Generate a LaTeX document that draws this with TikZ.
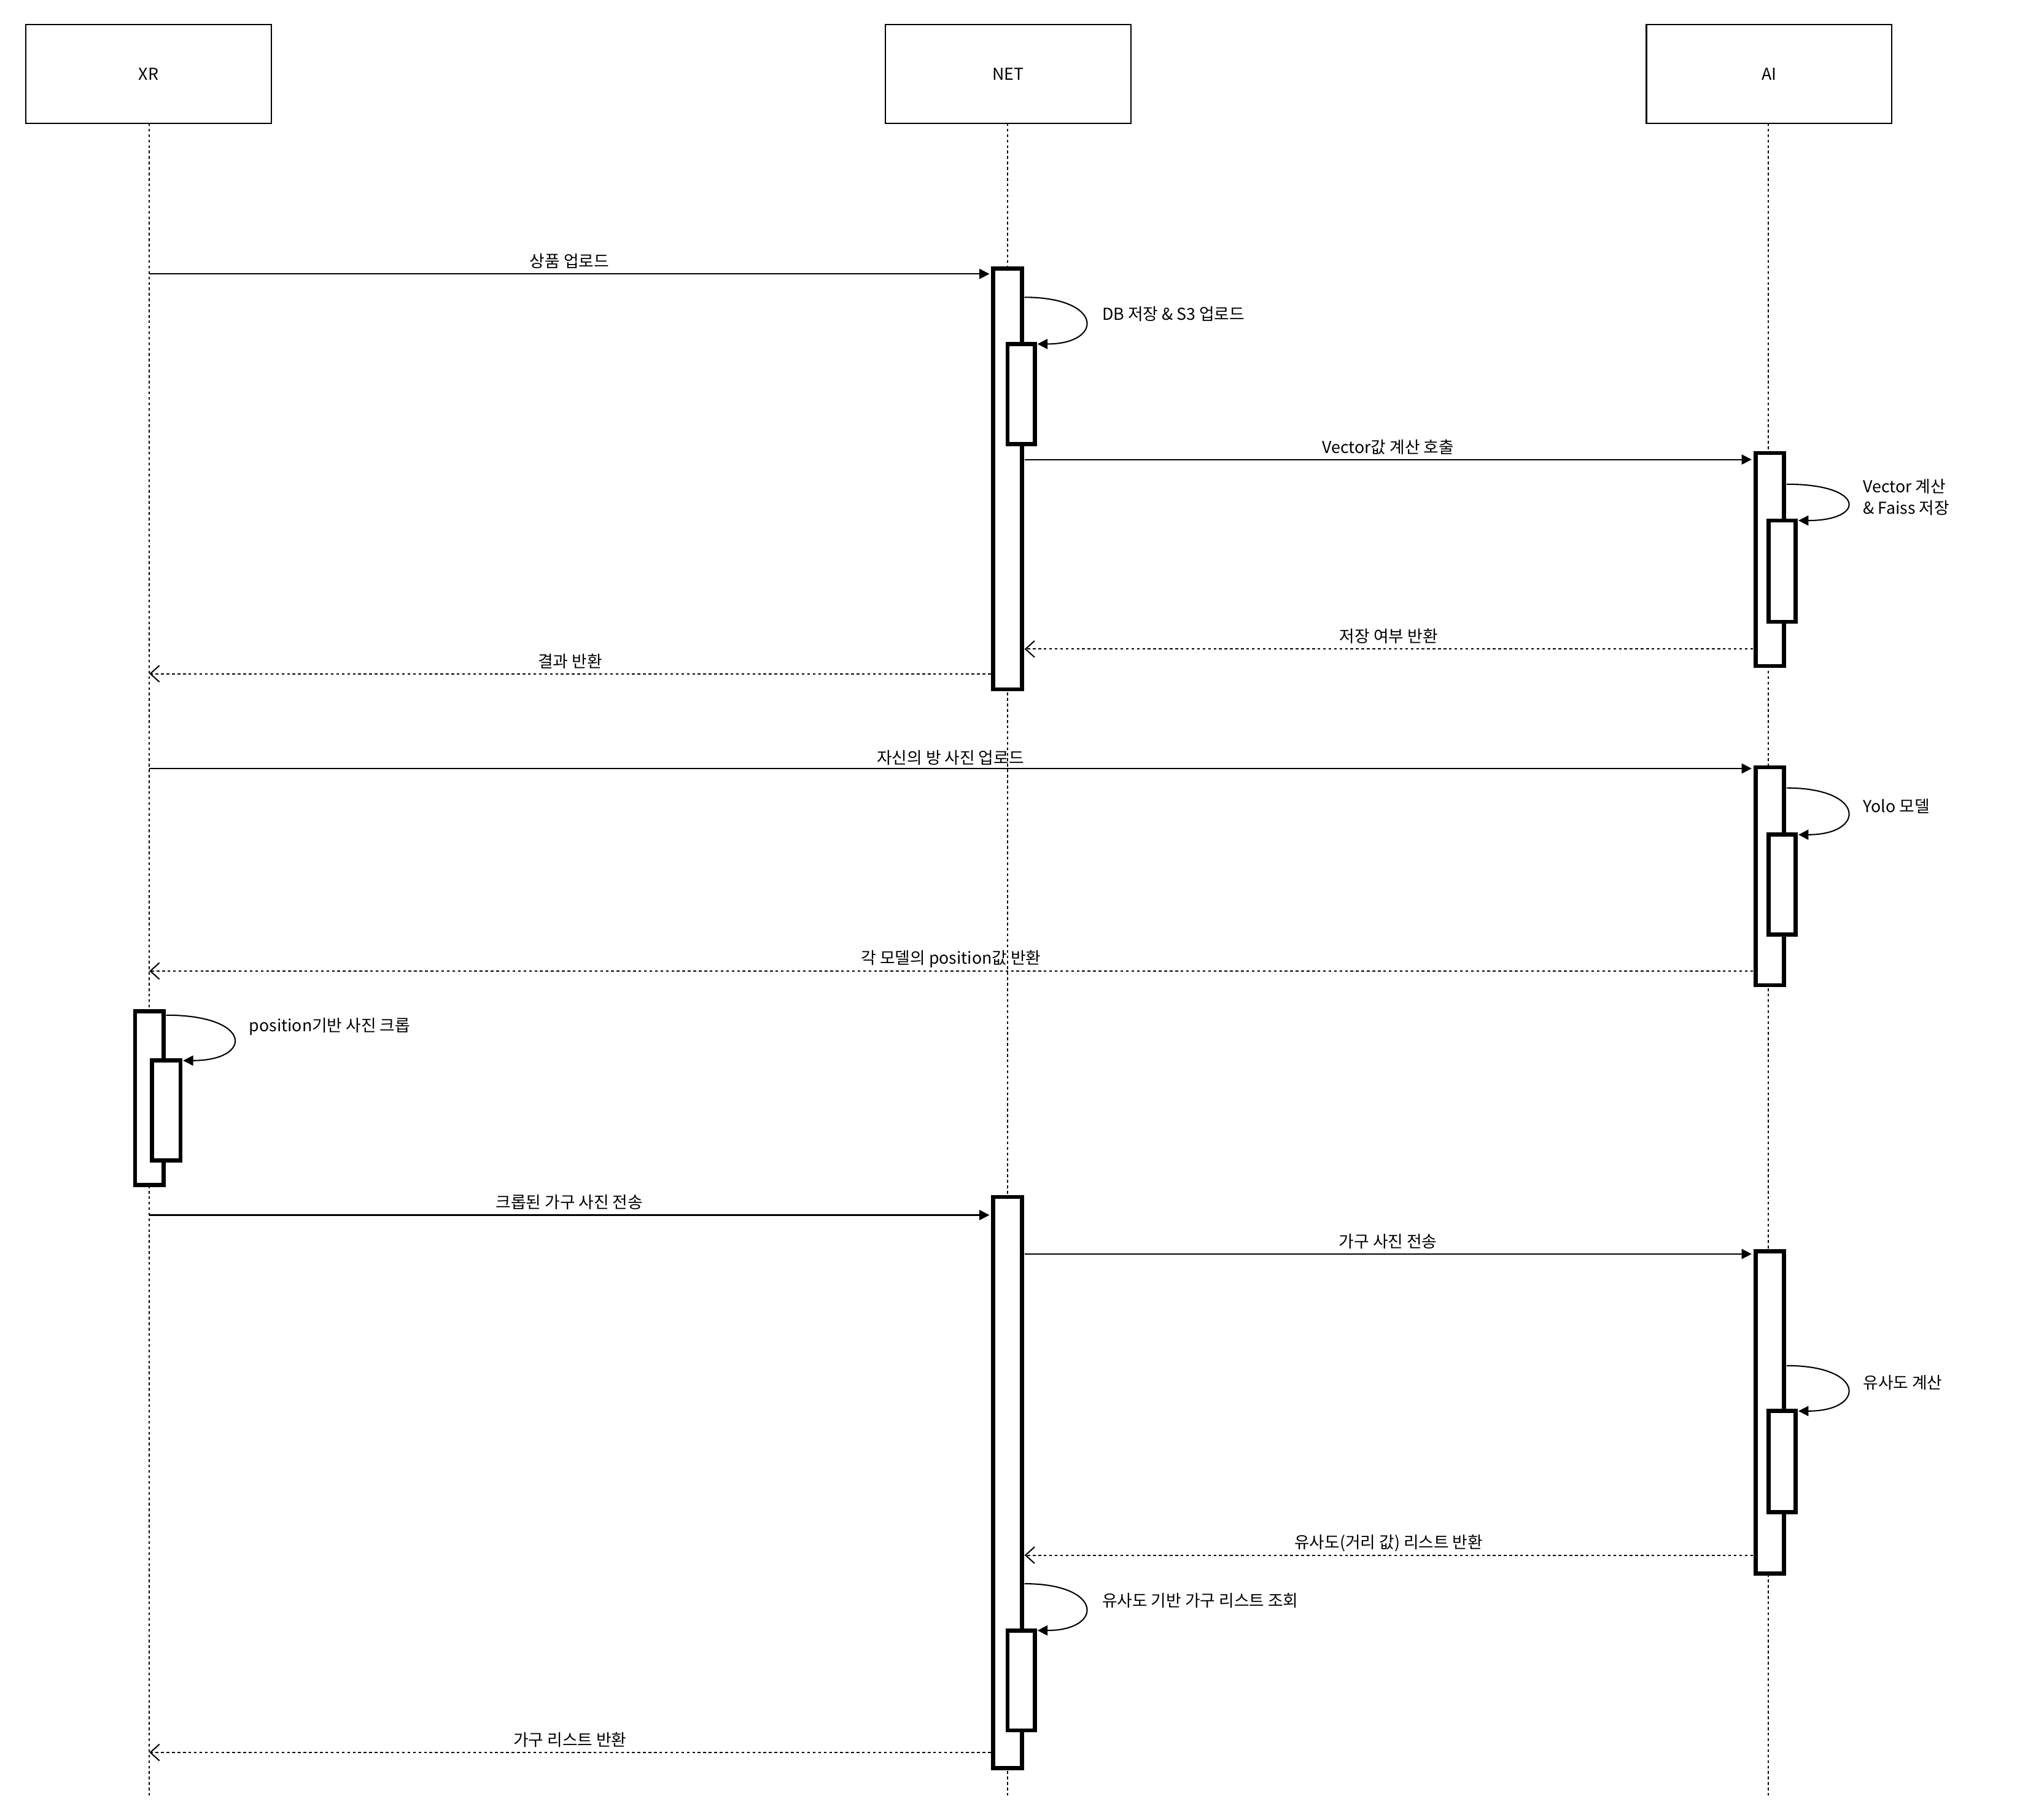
\documentclass[tikz,border=0pt]{standalone}
\usepackage{fontspec}
\setmainfont{Noto Sans CJK KR}
\usetikzlibrary{arrows.meta}
\begin{document}
\begin{tikzpicture}[x={(0.05cm,0)},y={(0,-0.05cm)},
  font=\fontsize{18}{23}\selectfont,
  hdr/.style={draw,line width=1.5pt,fill=white},
  life/.style={dashed,line width=1.2pt},
  act/.style={draw,line width=4.5pt,fill=white},
  msg/.style={line width=1.4pt,-{Triangle[length=11pt,width=11pt]}},
  ret/.style={line width=1.4pt,dashed,-{Straight Barb[length=10pt,width=18pt,line width=1.4pt]}},
  selfm/.style={line width=1.4pt,-{Triangle[length=11pt,width=11pt]}},
  lbl/.style={inner sep=1pt}]
\useasboundingbox (0,0) rectangle (1568,1402);
% headers
\draw[hdr] (20,19) rectangle (209,95); \node (xr) at (114.5,57) {XR};
\draw[hdr] (682,19) rectangle (871,95); \node (net) at (776.5,57) {NET};
\draw[hdr] (1268,19) rectangle (1457,95); \node (ai) at (1362.5,57) {AI};
\draw[life] (115,95) -- (115,1383);
\draw[life] (776,95) -- (776,1383);
\draw[life] (1362,95) -- (1362,1383);
% activations
\draw[act] (765,207) rectangle (787,531);
\draw[act] (776,265) rectangle (797,342);
\draw[act] (1352,349) rectangle (1374,513);
\draw[act] (1362,401) rectangle (1383,479);
\draw[act] (1352,591) rectangle (1374,759);
\draw[act] (1362,643) rectangle (1383,720);
\draw[act] (104,779) rectangle (126,913);
\draw[act] (117,817) rectangle (139,894);
\draw[act] (765,922) rectangle (787,1362);
\draw[act] (776,1256) rectangle (797,1333);
\draw[act] (1352,964) rectangle (1374,1212);
\draw[act] (1362,1087) rectangle (1383,1165);
% messages
\coordinate (a1) at (115,211); \coordinate (b1) at (762,211);
\draw[msg] (a1) -- node[lbl,above=4pt] {상품 업로드} (b1);
\coordinate (s1a) at (789,229); \coordinate (s1b) at (799,265);
\draw[selfm] (s1a) .. controls (850,229) and (850,265) .. (s1b);
\node[lbl,anchor=west] (l2) at (848,242) {DB 저장 \& S3 업로드};
\coordinate (a3) at (789,354); \coordinate (b3) at (1349,354);
\draw[msg] (a3) -- node[lbl,above=4pt] {Vector값 계산 호출} (b3);
\coordinate (s4a) at (1376,373); \coordinate (s4b) at (1385,401);
\draw[selfm] (s4a) .. controls (1437,373) and (1437,401) .. (s4b);
\node[lbl,anchor=west,align=left] (l4) at (1434,383) {Vector 계산\\\& Faiss 저장};
\coordinate (a5) at (1350,500); \coordinate (b5) at (789,500);
\draw[ret] (a5) -- node[lbl,above=4pt] {저장 여부 반환} (b5);
\coordinate (a6) at (763,519); \coordinate (b6) at (115,519);
\draw[ret] (a6) -- node[lbl,above=4pt] {결과 반환} (b6);
\coordinate (a7) at (115,592); \coordinate (b7) at (1349,592);
\draw[msg] (a7) -- node[lbl,above=2pt,pos=0.5] {자신의 방 사진 업로드} (b7);
\coordinate (s8a) at (1376,607); \coordinate (s8b) at (1385,643);
\draw[selfm] (s8a) .. controls (1437,607) and (1437,643) .. (s8b);
\node[lbl,anchor=west] (l8) at (1434,621) {Yolo 모델};
\coordinate (a9) at (1350,748); \coordinate (b9) at (115,748);
\draw[ret] (a9) -- node[lbl,above=2pt] {각 모델의 position값 반환} (b9);
\coordinate (s10a) at (128,782); \coordinate (s10b) at (141,817);
\draw[selfm] (s10a) .. controls (195,782) and (195,817) .. (s10b);
\node[lbl,anchor=west] (l10) at (191,791) {position기반 사진 크롭};
\coordinate (a11) at (115,936); \coordinate (b11) at (762,936);
\draw[msg] (a11) -- node[lbl,above=4pt] {크롭된 가구 사진 전송} (b11);
\coordinate (a12) at (789,966); \coordinate (b12) at (1349,966);
\draw[msg] (a12) -- node[lbl,above=4pt] {가구 사진 전송} (b12);
\coordinate (s13a) at (1376,1052); \coordinate (s13b) at (1385,1087);
\draw[selfm] (s13a) .. controls (1437,1052) and (1437,1087) .. (s13b);
\node[lbl,anchor=west] (l13) at (1434,1065) {유사도 계산};
\coordinate (a14) at (1350,1198); \coordinate (b14) at (789,1198);
\draw[ret] (a14) -- node[lbl,above=2pt] {유사도(거리 값) 리스트 반환} (b14);
\coordinate (s15a) at (789,1220); \coordinate (s15b) at (799,1256);
\draw[selfm] (s15a) .. controls (850,1220) and (850,1256) .. (s15b);
\node[lbl,anchor=west] (l15) at (848,1233) {유사도 기반 가구 리스트 조회};
\coordinate (a16) at (763,1350); \coordinate (b16) at (115,1350);
\draw[ret] (a16) -- node[lbl,above=4pt] {가구 리스트 반환} (b16);
\end{tikzpicture}
\end{document}
